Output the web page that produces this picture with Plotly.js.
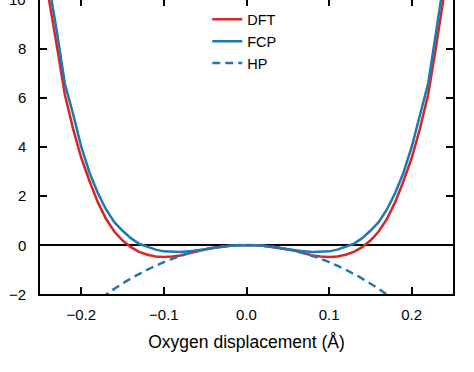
<!DOCTYPE html>
<html>
<head>
<meta charset="utf-8">
<script src="https://cdn.plot.ly/plotly-3.0.1.min.js"></script>
<style>html,body{margin:0;padding:0;background:#fff;overflow:hidden;}#chart{width:474px;height:392px;position:relative;top:-20px;}</style>
</head>
<body>
<div id="chart"></div>
<script>
const xGrid = [-0.25,-0.24,-0.23,-0.22,-0.21,-0.20,-0.19,-0.18,-0.17,-0.16,-0.15,-0.14,-0.13,-0.12,-0.11,-0.10,-0.09,-0.08,-0.07,-0.06,-0.05,-0.04,-0.03,-0.02,-0.01,
  0.00,0.01,0.02,0.03,0.04,0.05,0.06,0.07,0.08,0.09,0.10,0.11,0.12,0.13,0.14,0.15,0.16,0.17,0.18,0.19,0.20,0.21,0.22,0.23,0.24,0.25];
const dftE = [12.6,10.2,8.2,6.15,4.75,3.55,2.6,1.75,1.06,0.55,0.18,-0.09,-0.28,-0.40,-0.47,-0.49,-0.47,-0.43,-0.34,-0.25,-0.18,-0.12,-0.07,-0.03,-0.01,
  0,-0.01,-0.03,-0.07,-0.12,-0.18,-0.25,-0.34,-0.43,-0.47,-0.49,-0.47,-0.40,-0.28,-0.09,0.18,0.55,1.06,1.75,2.6,3.55,4.75,6.15,8.2,10.2,12.6];
const fcpE = [13.2,10.8,8.8,6.6,5.35,4.0,2.95,2.12,1.45,0.93,0.58,0.28,0.05,-0.08,-0.19,-0.26,-0.29,-0.29,-0.26,-0.23,-0.17,-0.11,-0.06,-0.03,-0.01,
  0,-0.01,-0.03,-0.06,-0.11,-0.17,-0.23,-0.26,-0.29,-0.29,-0.26,-0.19,-0.08,0.05,0.28,0.58,0.93,1.45,2.12,2.95,4.0,5.35,6.6,8.8,10.8,13.2];
const hpX = [-0.20,-0.18,-0.16,-0.14,-0.12,-0.10,-0.08,-0.06,-0.04,-0.02,0.00,0.02,0.04,0.06,0.08,0.10,0.12,0.14,0.16,0.18,0.20];
const hpE = [-2.8,-2.27,-1.79,-1.37,-1.01,-0.70,-0.45,-0.25,-0.11,-0.03,0,-0.03,-0.11,-0.25,-0.45,-0.70,-1.01,-1.37,-1.79,-2.27,-2.8];
const names = ['DFT','FCP','HP'];
const xTicks = [-0.2,-0.1,0,0.1,0.2];
const yTicks = [-2,0,2,4,6,8,10];
const yTickLabels = ['\u22122','0','2','4','6','8','10'];
const red = '#d62728', blue = '#1f77b4';

const traces = [
  {x: xGrid, y: dftE, name: names[0], mode: 'lines', line: {color: red, width: 2.5}},
  {x: xGrid, y: fcpE, name: names[1], mode: 'lines', line: {color: blue, width: 2.5}},
  {x: hpX, y: hpE, name: names[2], mode: 'lines', line: {color: blue, width: 2.5, dash: '8px,5px', shape: 'spline'}}
];
const font = {family: '"Liberation Sans", Arial, sans-serif', color: '#000'};
const yLabelAnnots = yTicks.map((v, i) => ({
  xref: 'paper', yref: 'y', x: 0, y: v, xanchor: 'right', yanchor: 'middle',
  xshift: -12, text: yTickLabels[i], showarrow: false,
  font: Object.assign({size: 15}, font)
}));
const layout = {
  width: 474, height: 392,
  margin: {l: 40, r: 21, t: 19, b: 78},
  paper_bgcolor: '#fff', plot_bgcolor: '#fff',
  font: Object.assign({size: 15}, font),
  showlegend: true,
  legend: {x: 0.405, y: 0.985, xanchor: 'left', yanchor: 'top', bgcolor: 'rgba(0,0,0,0)',
    font: Object.assign({size: 14.5}, font)},
  annotations: yLabelAnnots,
  xaxis: {range: [-0.25, 0.25], tickvals: xTicks, tickformat: '.1f',
    ticks: 'inside', ticklen: 7, tickwidth: 2, tickcolor: '#000',
    showline: true, linewidth: 2, linecolor: '#000', mirror: 'ticks',
    showgrid: false, zeroline: false, ticklabelstandoff: 6,
    tickfont: Object.assign({size: 15}, font),
    title: {text: 'Oxygen displacement (Å)', font: Object.assign({size: 17.5}, font), standoff: 14}},
  yaxis: {range: [-2, 10.04], tickvals: yTicks, showticklabels: false,
    ticks: 'inside', ticklen: 7, tickwidth: 2, tickcolor: '#000',
    showline: true, linewidth: 2, linecolor: '#000', mirror: 'ticks',
    showgrid: false, zeroline: true, zerolinecolor: '#000', zerolinewidth: 1.5}
};
Plotly.newPlot('chart', traces, layout, {displayModeBar: false, staticPlot: true});
</script>
</body>
</html>
